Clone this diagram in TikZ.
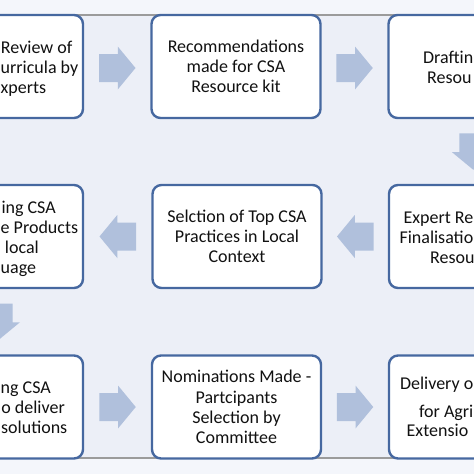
\documentclass[tikz,border=0pt]{standalone}
\usepackage{fontspec}
\setmainfont{Carlito}
\usetikzlibrary{calc}
\definecolor{bgtop}{HTML}{F4F6FB}
\definecolor{band}{HTML}{ECEFF7}
\definecolor{rulegray}{HTML}{9B9B9B}
\definecolor{boxblue}{HTML}{4668A0}
\definecolor{arrowfill}{HTML}{B0C0DC}
\definecolor{txtcol}{HTML}{111111}
\begin{document}
\begin{tikzpicture}[x=1pt,y=-1pt,
  stepbox/.style={draw=boxblue, line width=2.4pt, fill=white, rounded corners=9pt,
    minimum width=169pt, minimum height=103pt, inner sep=0pt},
  txt/.style={font=\fontsize{18}{20.3}\selectfont, text=txtcol, align=center, inner sep=0pt},
  frag/.style={font=\fontsize{18}{20.3}\selectfont, text=txtcol, inner sep=0pt},
  blockarrow/.pic={\fill[arrowfill] (-18.25,-14) -- (0.5,-14) -- (0.5,-21.5) -- (18.25,0)
      -- (0.5,21.5) -- (0.5,14) -- (-18.25,14) -- cycle;}]
\useasboundingbox (0,0) rectangle (474,474);
\clip (0,0) rectangle (474,474);
% backgrounds
\fill[bgtop] (0,0) rectangle (474,474);
\fill[band] (0,15) rectangle (474,458);
\draw[rulegray, line width=1.2pt] (0,15) -- (474,15);
\draw[rulegray, line width=1.2pt] (0,458) -- (474,458);
% boxes
\node[stepbox] (A) at (-1.5,66.5) {};
\node[stepbox] (B) at (236,66.5) {};
\node[stepbox] (C) at (473,66.5) {};
\node[stepbox] (D) at (-1.5,236.5) {};
\node[stepbox] (E) at (237,236.5) {};
\node[stepbox] (F) at (473.5,236.5) {};
\node[stepbox] (G) at (-1.5,407) {};
\node[stepbox] (H) at (236.5,407) {};
\node[stepbox] (I) at (473.5,407) {};
% arrows between boxes
\coordinate (ab) at ($(A.east)!0.5!(B.west)+(0,1.5)$);
\coordinate (bc) at ($(B.east)!0.5!(C.west)+(0,1.5)$);
\coordinate (cf) at ($(C.south)!0.5!(F.north)$);
\coordinate (fe) at ($(F.west)!0.5!(E.east)$);
\coordinate (ed) at ($(E.west)!0.5!(D.east)$);
\coordinate (dg) at ($(D.south)!0.5!(G.north)$);
\coordinate (gh) at ($(G.east)!0.5!(H.west)$);
\coordinate (hi) at ($(H.east)!0.5!(I.west)$);
\pic at (ab) {blockarrow};
\pic at (bc) {blockarrow};
\pic[rotate=-90] at (cf) {blockarrow};
\pic[rotate=180] at (fe) {blockarrow};
\pic[rotate=180] at (ed) {blockarrow};
\pic[rotate=-90] at (dg) {blockarrow};
\pic at (gh) {blockarrow};
\pic at (hi) {blockarrow};
% middle texts
\node[txt] (tB) at (B.center) {Recommendations\\made for CSA\\Resource kit};
\node[txt] (tE) at (E.center) {Selction of Top CSA\\Practices in Local\\Context};
\node[txt] (tH) at (H.center) {Nominations Made -\\Partcipants\\Selection by\\Committee};
% cropped left texts
\node[frag, anchor=base east] (a1) at (72.5,53) {Review of};
\node[frag, anchor=base west] (a2) at (0.5,73) {urricula by};
\node[frag, anchor=base west] (a3) at (0.5,93) {xperts};
\node[frag, anchor=base east] (d1) at (56,213) {ing CSA};
\node[frag, anchor=base west] (d2) at (0.5,233) {e Products};
\node[frag, anchor=base east] (d3) at (39,253) {local};
\node[frag, anchor=base west] (d4) at (0.5,273) {uage};
\node[frag, anchor=base west] (g1) at (0.5,393) {ng CSA};
\node[frag, anchor=base east] (g2) at (65,413) {o deliver};
\node[frag, anchor=base east] (g3) at (67.5,433) {solutions};
% cropped right texts
\node[frag, anchor=base east] (c1) at (473.5,63) {Draftin};
\node[frag, anchor=base west] (c2) at (427,83) {Resou};
\node[frag, anchor=base east] (f1) at (473.5,223) {Expert Re};
\node[frag, anchor=base east] (f2) at (473.5,243) {Finalisatio};
\node[frag, anchor=base west] (f3) at (430,263) {Resou};
\node[frag, anchor=base east] (i1) at (473.5,389) {Delivery o};
\node[frag, anchor=base east] (i2) at (473.5,417.5) {for Agri};
\node[frag, anchor=base west] (i3) at (406.5,436.5) {Extensio};
\end{tikzpicture}
\end{document}
